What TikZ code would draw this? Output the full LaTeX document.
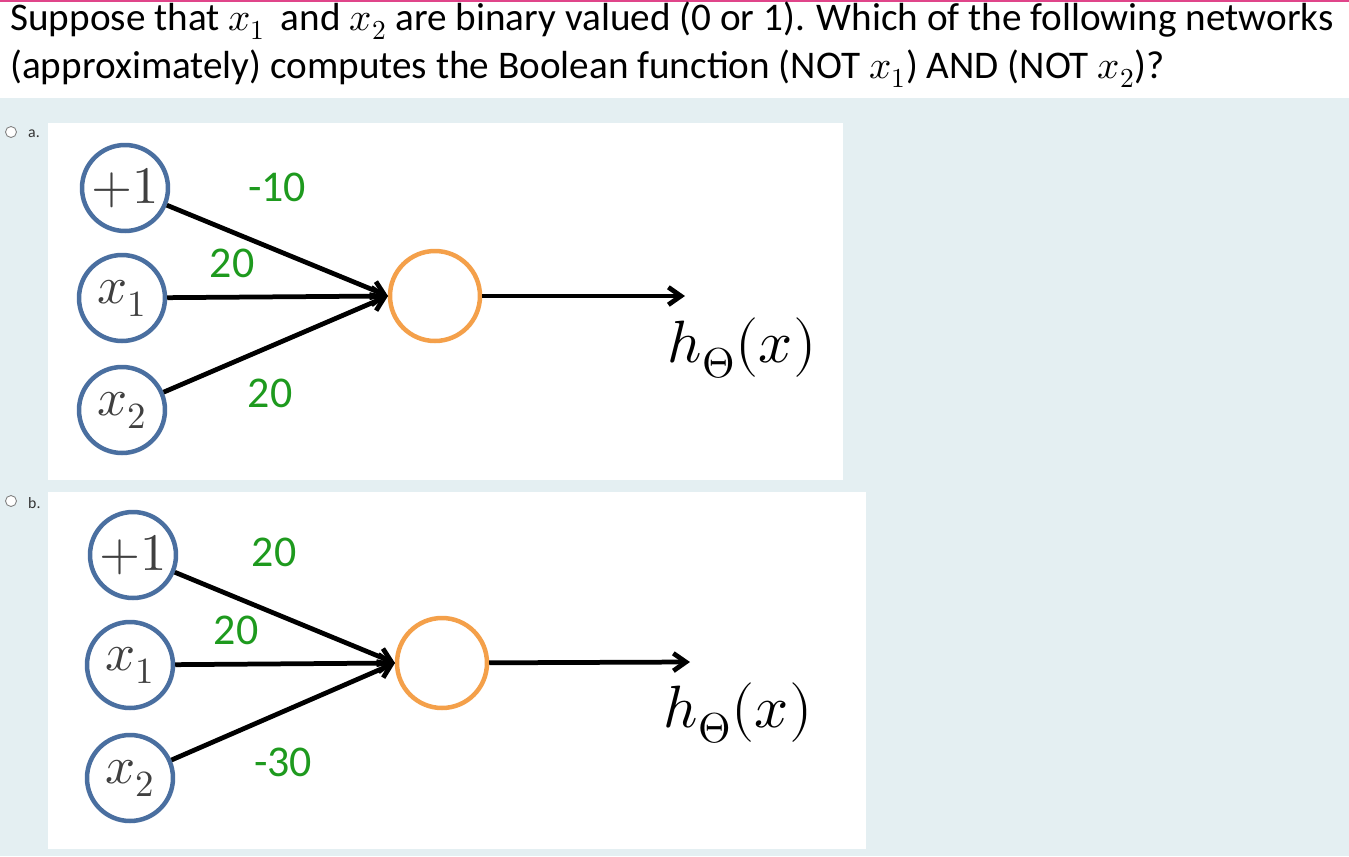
\documentclass[tikz,border=0pt]{standalone}
\usepackage{fontspec}
\setmainfont{Carlito}
\usepackage{unicode-math}
\setmathfont{Latin Modern Math}
\usetikzlibrary{arrows.meta}
\definecolor{bgc}{HTML}{E4EFF2}
\definecolor{inblue}{HTML}{4A6FA0}
\definecolor{outor}{HTML}{F4A04A}
\definecolor{wgreen}{HTML}{1E9A1E}
\definecolor{pinkc}{HTML}{E0458A}
\begin{document}
\begin{tikzpicture}[x=0.02cm,y=-0.02cm,
 inn/.style={circle,draw=inblue,line width=0.09cm,minimum size=1.72cm,inner sep=0pt,font=\fontsize{30}{30}\selectfont,text=black!75},
 outn/.style={circle,draw=outor,line width=0.09cm,minimum size=1.8cm,inner sep=0pt},
 edge/.style={line width=0.095cm,-{Straight Barb[length=0.25cm,width=0.35cm]}},
 wt/.style={text=wgreen,font=\fontsize{25}{25}\selectfont},
 hl/.style={font=\fontsize{34}{34}\selectfont},
 opt/.style={font=\fontsize{9}{9}\selectfont,text=black!80}]
\useasboundingbox (0,0) rectangle (1349,856);
\fill[bgc] (0,0) rectangle (1349,856);
\fill[white] (0,0) rectangle (1349,98);
\fill[pinkc] (0,0) rectangle (1349,2);
\node[anchor=base west,font=\fontsize{22.3}{22.3}\selectfont,inner sep=0] (q1) at (10,30) {Suppose that $x_1$\, and $x_2$ are binary valued (0 or 1). Which of the following networks};
\node[anchor=base west,font=\fontsize{22.3}{22.3}\selectfont,inner sep=0] (q2) at (10,78) {(approximately) computes the Boolean function (NOT $x_1$) AND (NOT $x_2$)?};
% option a
\draw[gray,line width=0.5pt,fill=white] (11,132) circle (5.5);
\node[opt,anchor=west] (la) at (22,134) {a.};
\fill[white] (48,123) rectangle (843,480);
\node[inn] (a0) at (125,188) {$+1$};
\node[inn] (a1) at (122,298) {$x_1$};
\node[inn] (a2) at (122,410) {$x_2$};
\node[outn] (ao) at (435,296) {};
\coordinate (ai) at (388,296);
\coordinate (ah) at (685,296);
\draw[edge] (a0) -- (ai);
\draw[edge] (a1) -- (ai);
\draw[edge] (a2) -- (ai);
\draw[edge] (ao) -- (ah);
\node[wt] (wa0) at (277,187) {-10};
\node[wt] (wa1) at (232,263) {20};
\node[wt] (wa2) at (270,393) {20};
\node[hl] (ha) at (742,348) {$h_\Theta(x)$};
% option b
\draw[gray,line width=0.5pt,fill=white] (11,501) circle (5.5);
\node[opt,anchor=west] (lb) at (22,503) {b.};
\fill[white] (48,492) rectangle (866,849);
\node[inn] (b0) at (133,555) {$+1$};
\node[inn] (b1) at (130,665) {$x_1$};
\node[inn] (b2) at (130,778) {$x_2$};
\node[outn] (bo) at (442,663) {};
\coordinate (bi) at (395,663);
\coordinate (bh) at (690,662);
\draw[edge] (b0) -- (bi);
\draw[edge] (b1) -- (bi);
\draw[edge] (b2) -- (bi);
\draw[edge] (bo) -- (bh);
\node[wt] (wb0) at (274,552) {20};
\node[wt] (wb1) at (236,630) {20};
\node[wt] (wb2) at (283,762) {-30};
\node[hl] (hb) at (738,713) {$h_\Theta(x)$};
\end{tikzpicture}
\end{document}
